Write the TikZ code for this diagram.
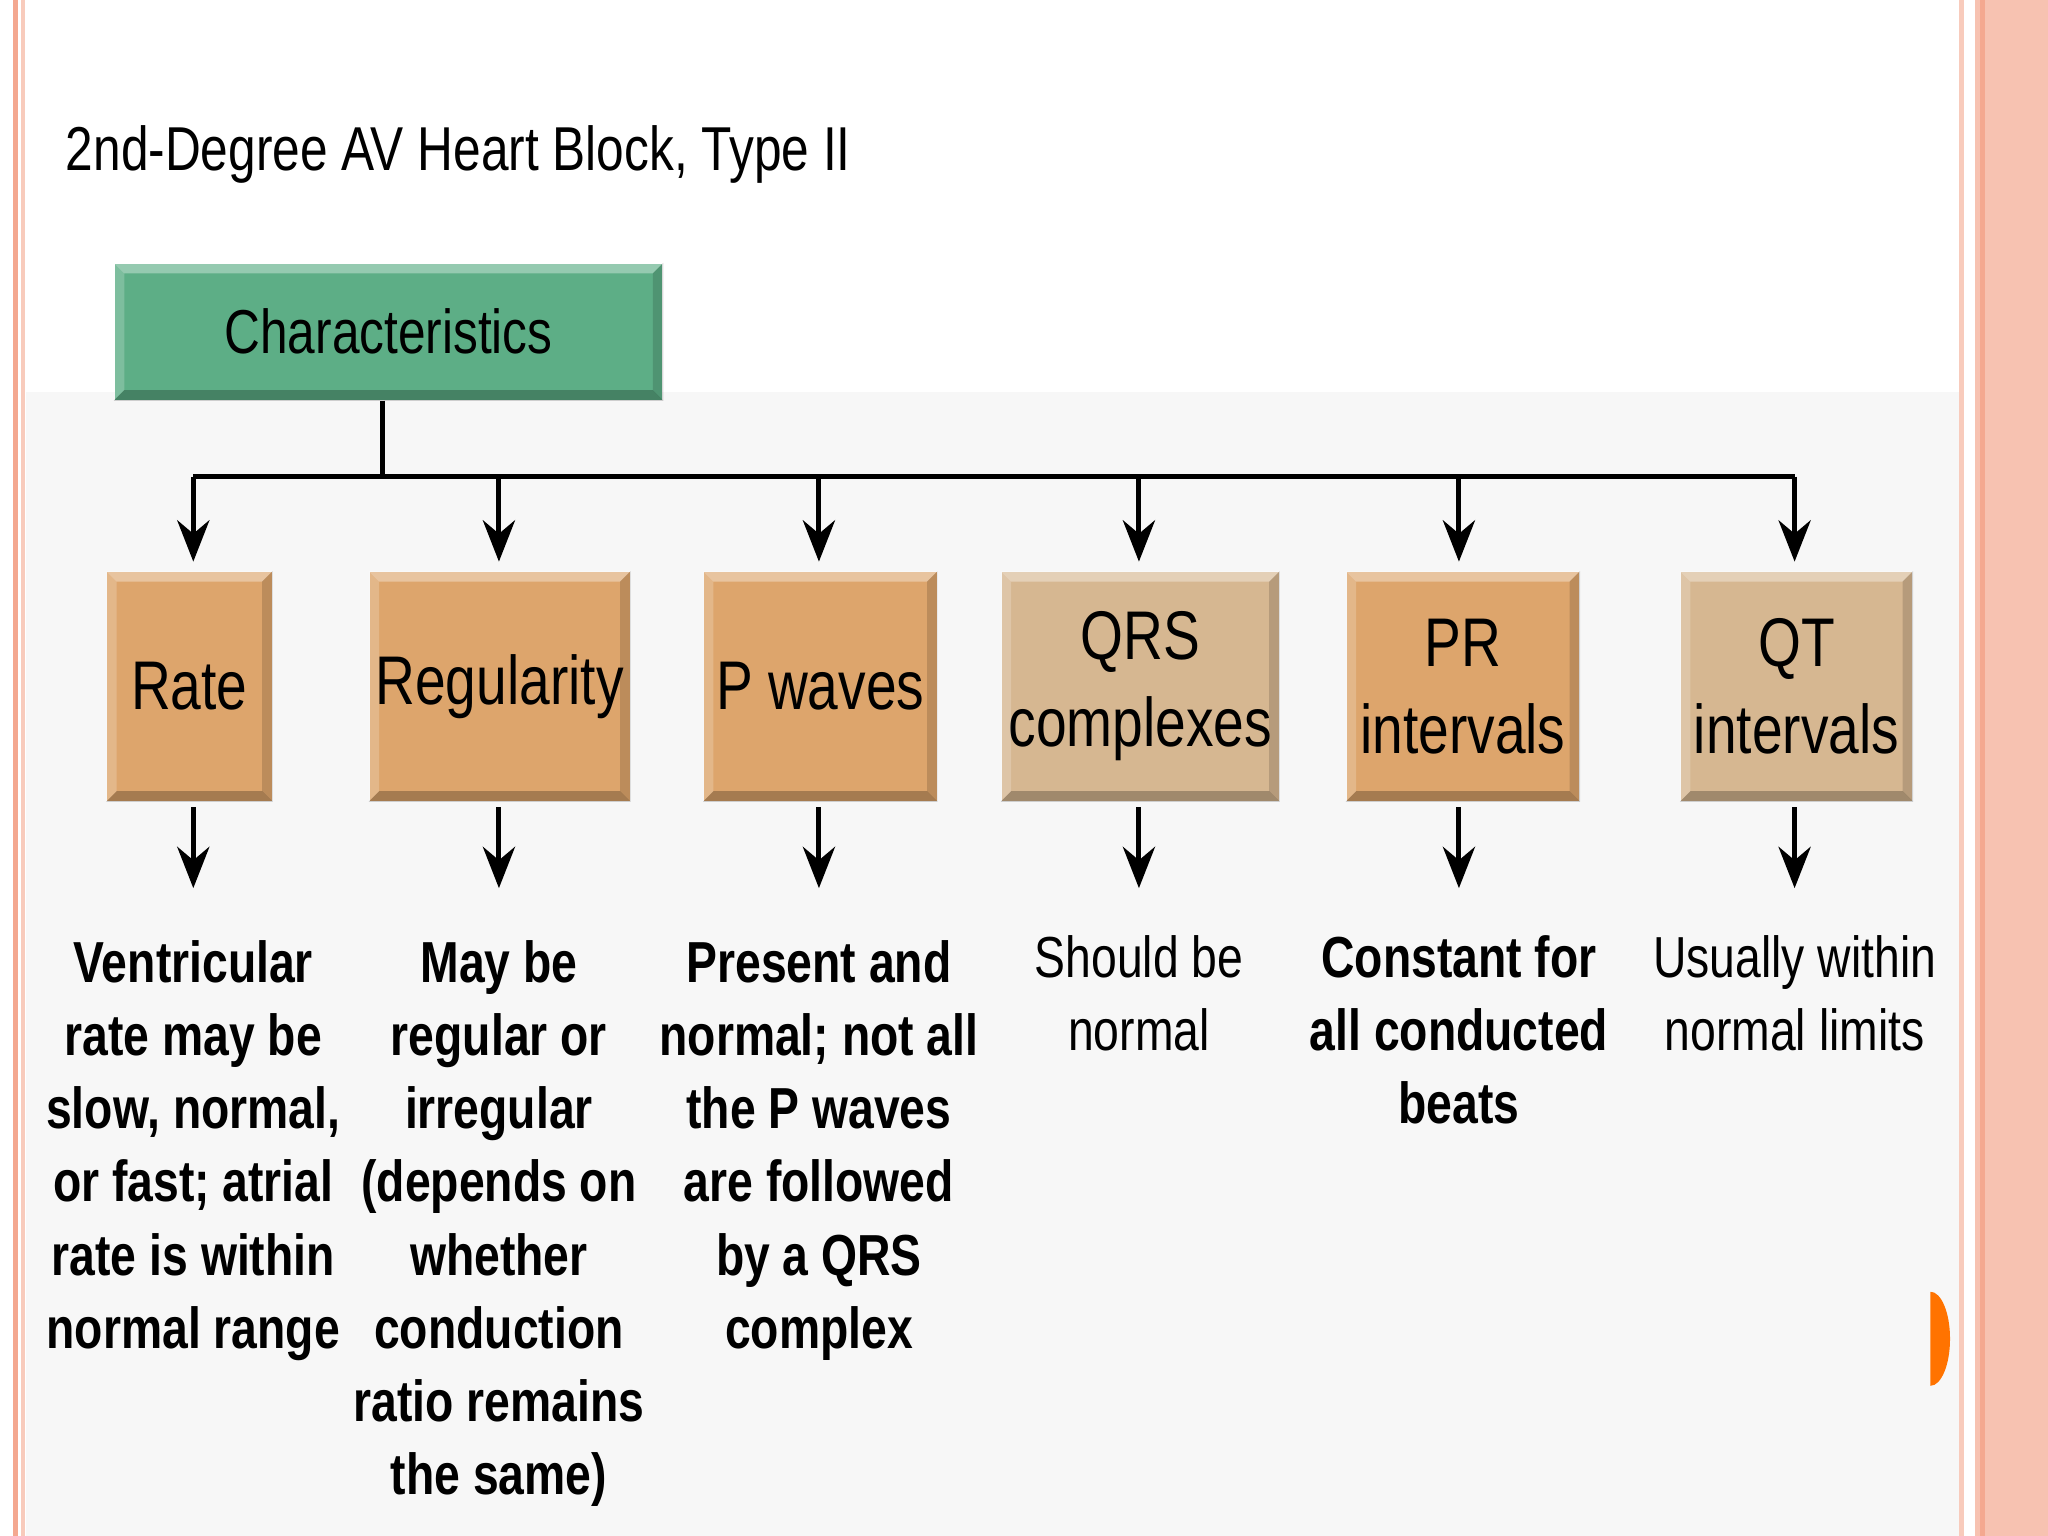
\documentclass[tikz,border=0pt]{standalone}
\usepackage{fontspec}
\setmainfont{Liberation Sans}[FakeStretch=0.8]
\usetikzlibrary{arrows.meta}
\definecolor{tanA}{HTML}{DDA56C}
\definecolor{tanB}{HTML}{D6B791}
\definecolor{grn}{HTML}{5DAE86}
\definecolor{salmon}{HTML}{F4A890}
\tikzset{
 box/.style={minimum height=1.75cm, inner sep=0pt, align=center, font=\fontsize{15}{19}\selectfont},
 desc/.style={align=center, anchor=north, font=\fontsize{12.6}{15.9}\selectfont},
 arr/.style={-{Stealth[length=9,width=7]}, line width=1.1pt},
 ln/.style={line width=1.1pt}
}
\newcommand{\bevelbox}[1]{%
 \fill[white,opacity=0.35] (#1.north west)--(#1.north east)--([shift={(-8,8)}]#1.north east)--([shift={(8,8)}]#1.north west)--cycle;
 \fill[white,opacity=0.2] (#1.north west)--(#1.south west)--([shift={(8,-8)}]#1.south west)--([shift={(8,8)}]#1.north west)--cycle;
 \fill[black,opacity=0.25] (#1.south west)--(#1.south east)--([shift={(-8,-8)}]#1.south east)--([shift={(8,-8)}]#1.south west)--cycle;
 \fill[black,opacity=0.15] (#1.north east)--(#1.south east)--([shift={(-8,-8)}]#1.south east)--([shift={(-8,8)}]#1.north east)--cycle;}
\begin{document}
\begin{tikzpicture}[x=0.01cm,y=-0.01cm]
\useasboundingbox (0,0) rectangle (1568,1176);
\fill[white] (0,0) rectangle (1568,1176);
\fill[gray!6] (20,300) rectangle (1500,1176);
\fill[salmon] (10,0) rectangle (14,1176);
\fill[salmon!60] (16,0) rectangle (19,1176);
\fill[salmon!60] (1500,0) rectangle (1504,1176);
\fill[salmon!70] (1512,0) rectangle (1568,1176);
\fill[salmon] (1516,0) rectangle (1520,1176);
\begin{scope}
\clip (1478,980) rectangle (1510,1070);
\fill[orange!90!red] (1478,1025) ellipse[x radius=15, y radius=36];
\end{scope}
\node[anchor=west,font=\fontsize{13.5}{16}\selectfont] (title) at (38,118) {2nd-Degree AV Heart Block, Type II};
\node[fill=grn,minimum width=4.19cm,minimum height=1.04cm,inner sep=0pt,font=\fontsize{13.5}{16}\selectfont] (ch) at (297.5,254) {Characteristics};
\bevelbox{ch}
\foreach \bn/\bx/\bw/\bc/\bt in {r/145/1.26/tanA/Rate, g/382.5/1.99/tanA/Regularity, p/628/1.78/tanA/P waves, q/873/2.12/tanB/{QRS\\complexes}, pr/1120/1.78/tanA/{PR\\intervals}, qt/1375.5/1.77/tanB/{QT\\intervals}}{
 \node[box,fill=\bc,minimum width=\bw cm] (\bn) at (\bx,525.5) {\bt};
 \bevelbox{\bn}
}
\coordinate (j) at (293,365);
\draw[ln] (ch.south -| j) -- (j);
\draw[ln] (148,365) -- (1374,365);
\foreach \bx in {148,382,627,872,1117,1374}{
 \draw[arr] (\bx,365) -- (\bx,430);
 \draw[arr] (\bx,618) -- (\bx,680);
}
\node[desc,font=\fontsize{12.6}{15.9}\bfseries] (dr) at (148,708) {Ventricular\\rate may be\\slow, normal,\\or fast; atrial\\rate is within\\normal range};
\node[desc,font=\fontsize{12.6}{15.9}\bfseries] (dg) at (382,708) {May be\\regular or\\irregular\\(depends on\\whether\\conduction\\ratio remains\\the same)};
\node[desc,font=\fontsize{12.6}{15.9}\bfseries] (dp) at (627,708) {Present and\\normal; not all\\the P waves\\are followed\\by a QRS\\complex};
\node[desc] (dq) at (872,704) {Should be\\normal};
\node[desc,font=\fontsize{12.6}{15.9}\bfseries] (dpr) at (1117,704) {Constant for\\all conducted\\beats};
\node[desc] (dqt) at (1374,704) {Usually within\\normal limits};
\end{tikzpicture}
\end{document}
